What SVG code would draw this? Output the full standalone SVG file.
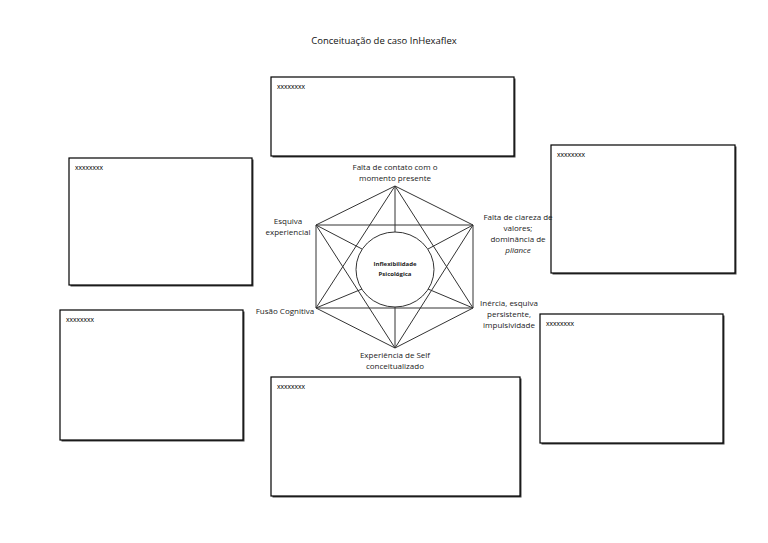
<svg xmlns="http://www.w3.org/2000/svg" width="768" height="543" viewBox="0 0 768 543">
<style>
.box{fill:#fff;stroke:#000;stroke-width:1.2}
.sh{fill:#444}
.x{font-family:"Liberation Sans",sans-serif;font-size:7px;fill:#000}
.l{font-family:"Open Sans","DejaVu Sans",sans-serif;font-size:8px;fill:#222;text-anchor:middle}
.cl{font-size:6px;font-weight:bold}
.c line,.c polygon{stroke:#333;stroke-width:1;fill:none}
</style>
<rect width="768" height="543" fill="#fff"/>
<text x="384" y="44" text-anchor="middle" font-family="Open Sans,DejaVu Sans,sans-serif" font-size="9.5" fill="#111">Conceituação de caso InHexaflex</text>
<g id="box-top"><rect class="sh" x="272.5" y="78.5" width="243" height="79"/><rect class="box" x="271" y="77" width="243" height="79"/><text class="x" x="277" y="89">xxxxxxxx</text></g>
<g id="box-left"><rect class="sh" x="70.5" y="159.5" width="183" height="127"/><rect class="box" x="69" y="158" width="183" height="127"/><text class="x" x="75" y="170">xxxxxxxx</text></g>
<g id="box-right"><rect class="sh" x="552.5" y="146.5" width="184" height="128"/><rect class="box" x="551" y="145" width="184" height="128"/><text class="x" x="557" y="157">xxxxxxxx</text></g>
<g id="box-lowleft"><rect class="sh" x="61.5" y="311.5" width="183" height="130"/><rect class="box" x="60" y="310" width="183" height="130"/><text class="x" x="66" y="322">xxxxxxxx</text></g>
<g id="box-lowright"><rect class="sh" x="541.5" y="315.5" width="183" height="129"/><rect class="box" x="540" y="314" width="183" height="129"/><text class="x" x="546" y="326">xxxxxxxx</text></g>
<g id="box-bottom"><rect class="sh" x="272.5" y="378.5" width="249" height="119"/><rect class="box" x="271" y="377" width="249" height="119"/><text class="x" x="277" y="389">xxxxxxxx</text></g>
<g id="connectors" class="c">
<polygon points="395,186 473,225 473,308 395,348 316,308 316,225"/>
<line x1="316" y1="225" x2="473" y2="225"/>
<line x1="316" y1="308" x2="473" y2="308"/>
<line x1="395" y1="186" x2="316" y2="308"/>
<line x1="395" y1="186" x2="473" y2="308"/>
<line x1="395" y1="348" x2="316" y2="225"/>
<line x1="395" y1="348" x2="473" y2="225"/>
<line x1="395" y1="186" x2="395" y2="232"/>
<line x1="395" y1="348" x2="395" y2="307"/>
<line x1="316" y1="225" x2="362" y2="249"/>
<line x1="473" y1="225" x2="428" y2="249"/>
<line x1="316" y1="308" x2="362" y2="289"/>
<line x1="473" y1="308" x2="428" y2="289"/>
</g>
<g id="center"><ellipse cx="395" cy="269.5" rx="39" ry="37.5" fill="#fff" stroke="#333" stroke-width="1"/>
<text class="l cl" x="395" y="266">Inflexibilidade</text><text class="l cl" x="395" y="276">Psicológica</text></g>
<g id="labels">
<text class="l" x="395" y="170">Falta de contato com o</text><text class="l" x="395" y="181">momento presente</text>
<text class="l" x="288" y="224">Esquiva</text><text class="l" x="288" y="235">experiencial</text>
<text class="l" x="518" y="220">Falta de clareza de</text><text class="l" x="518" y="231">valores;</text><text class="l" x="518" y="242">dominância de</text><text class="l" x="518" y="253" font-style="italic">pliance</text>
<text class="l" x="285" y="314">Fusão Cognitiva</text>
<text class="l" x="509" y="306">Inércia, esquiva</text><text class="l" x="509" y="317">persistente,</text><text class="l" x="509" y="328">impulsividade</text>
<text class="l" x="395" y="358">Experiência de Self</text><text class="l" x="395" y="369">conceitualizado</text>
</g>
</svg>
